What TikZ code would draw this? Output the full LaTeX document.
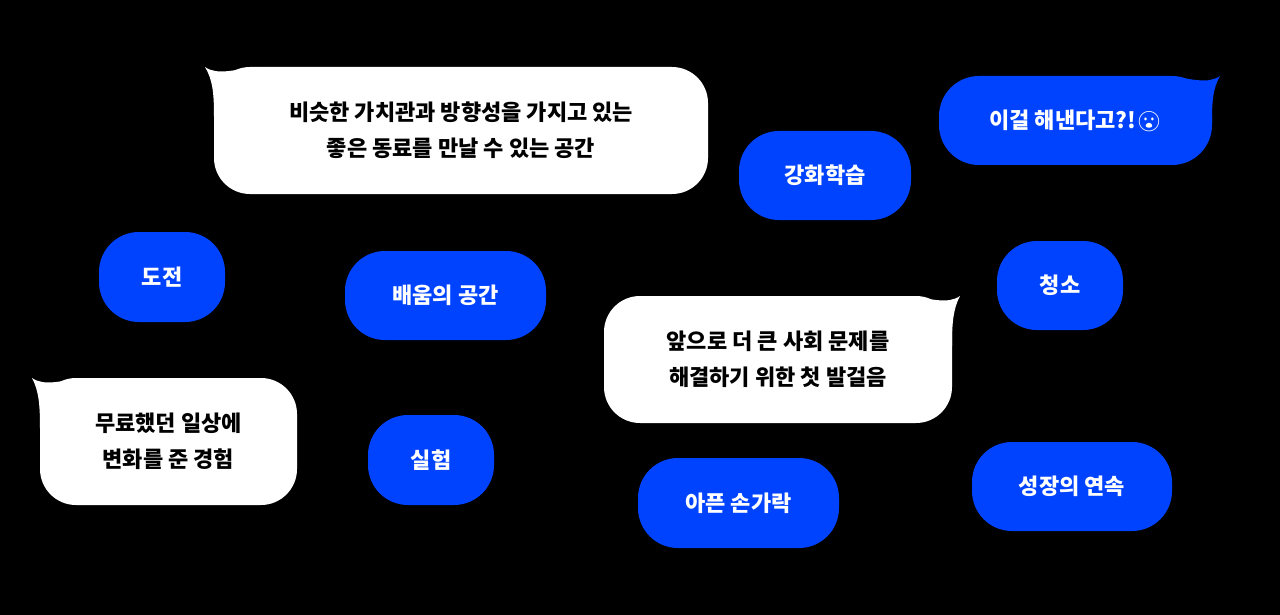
\documentclass[tikz,border=0pt]{standalone}
\usepackage{fontspec}
\newfontfamily\cjk{Noto Sans CJK KR}
\newfontfamily\emo{Noto Emoji}
\definecolor{bblue}{HTML}{0043FF}
\tikzset{
 bub/.style={rounded corners=40pt, inner sep=0pt, align=center, font=\cjk\bfseries\fontsize{22}{36}\selectfont},
 bluebub/.style={bub, fill=bblue, text=white},
 whitebub/.style={bub, fill=white, text=black, rounded corners=36pt},
}
\newcommand{\bubble}[6]{% name, style, x0,y0,x1,y1
 \node[#2, minimum width={(#5-#3)*1pt}, minimum height={(#6-#4)*1pt}] (#1) at ({(#3+#5)/2},{(#4+#6)/2}) {};}
\begin{document}
\begin{tikzpicture}[x=1pt,y=-1pt]
\fill[black] (0,0) rectangle (1280,615);
\useasboundingbox (0,0) rectangle (1280,615);
% white 1
\node[whitebub, minimum width=494pt, minimum height=127pt] (w1) at (461,130.5) {비슷한 가치관과 방향성을 가지고 있는\\좋은 동료를 만날 수 있는 공간};
\fill[white] (205,67) .. controls (218,76) and (235,69) .. (259,67) -- (259,117) -- (214,117) .. controls (214,95) and (213,80) .. (205,67);
% white 2 (tail right)
\node[whitebub, minimum width=348pt, minimum height=127pt] (w2) at (778,359.5) {앞으로 더 큰 사회 문제를\\해결하기 위한 첫 발걸음};
\fill[white] (960,296) .. controls (947,305) and (930,298) .. (907,296) -- (907,346) -- (952,346) .. controls (952,324) and (953,309) .. (960,296);
% white 3
\node[whitebub, minimum width=257pt, minimum height=127pt] (w3) at (168.5,441.5) {무료했던 일상에\\변화를 준 경험};
\fill[white] (32,378) .. controls (45,387) and (62,380) .. (86,378) -- (86,428) -- (40,428) .. controls (40,406) and (39,391) .. (32,378);
% blue
\node[bluebub, minimum width=273pt, minimum height=89pt] (b0) at (1075.5,120.5) {이걸 해낸다고?!{\emo\fontsize{20}{20}\selectfont 😮}};
\fill[bblue] (1220,76) .. controls (1207,85) and (1190,78) .. (1167,76) -- (1167,121) -- (1212,121) .. controls (1212,101) and (1213,88) .. (1220,76);
\node[bluebub, minimum width=172pt, minimum height=89pt] (b1) at (825,175.5) {강화학습};
\node[bluebub, minimum width=126pt, minimum height=90pt] (b2) at (162,277) {도전};
\node[bluebub, minimum width=201pt, minimum height=89pt] (b3) at (445.5,295.5) {배움의 공간};
\node[bluebub, minimum width=126pt, minimum height=89pt] (b4) at (1060,285.5) {청소};
\node[bluebub, minimum width=126pt, minimum height=90pt] (b5) at (431,460) {실험};
\node[bluebub, minimum width=201pt, minimum height=90pt] (b6) at (738.5,503) {아픈 손가락};
\node[bluebub, minimum width=200pt, minimum height=89pt] (b7) at (1072,486.5) {성장의 연속};
\end{tikzpicture}
\end{document}
